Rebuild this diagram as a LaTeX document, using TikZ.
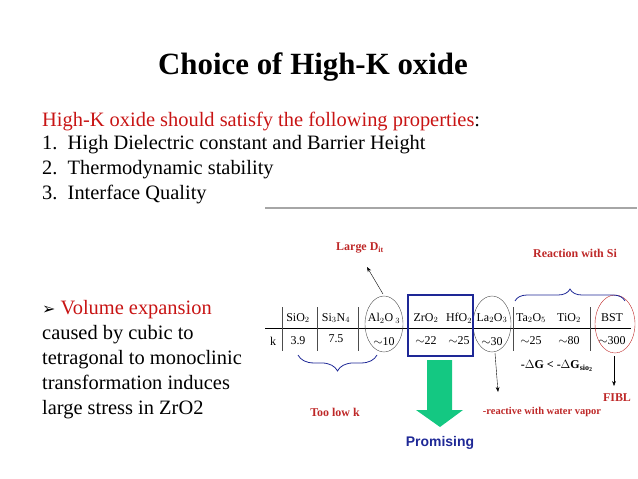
\documentclass[tikz,border=0pt]{standalone}
\usepackage{fontspec}
\setmainfont{Liberation Serif}
\newfontfamily\dv{DejaVu Sans}
\newfontfamily\lsans{Liberation Sans}
\usetikzlibrary{decorations.pathreplacing,arrows.meta}
\definecolor{dred}{RGB}{200,20,20}
\definecolor{lred}{RGB}{190,40,40}
\definecolor{bblue}{RGB}{30,40,150}
\definecolor{gteal}{RGB}{20,200,130}
\tikzset{
 body/.style={anchor=west,font=\fontsize{20.5}{25}\selectfont,inner sep=0},
 tab/.style={font=\fontsize{12}{14}\selectfont,inner sep=0},
 lab/.style={font=\bfseries\fontsize{12}{14}\selectfont,text=lred,inner sep=0},
 ell/.style={draw=black!70,thin},
 brc/.style={draw=bblue,thick,decorate,decoration={brace,amplitude=12pt}},
 arr/.style={-{Stealth[length=5pt]},black,thin}
}
\begin{document}
\begin{tikzpicture}[x=1bp,y=-1bp]
\useasboundingbox (0,0) rectangle (638,479);
\node[font=\bfseries\fontsize{31}{36}\selectfont] (title) at (313,67) {Choice of High-K oxide};
\node[body,text=dred] (l0) at (42,122) {High-K oxide should satisfy the following properties\textcolor{black}{:}};
\node[body] (l1) at (42,145) {1.\enspace High Dielectric constant and Barrier Height};
\node[body] (l2) at (42,170) {2.\enspace Thermodynamic stability};
\node[body] (l3) at (42,195) {3.\enspace Interface Quality};
\draw[gray!70,line width=1.5pt] (265,208) -- (637,208);
\node[body,align=left,anchor=north west] (bul) at (42,300) {{\dv\fontsize{16}{18}\selectfont ➢} \textcolor{dred}{Volume expansion}\\caused by cubic to\\tetragonal to monoclinic\\transformation induces\\large stress in ZrO2};
% table
\draw[thin] (265,328) -- (631,328);
\foreach \x in {282,317,358,513,590} \draw[thin,black!70] (\x,307) -- (\x,351);
\node[tab] (k) at (273,341) {k};
\node[tab] (a1) at (298,318) {SiO$_2$}; \node[tab] (b1) at (298,341) {3.9};
\node[tab] (a2) at (336,318) {Si$_3$N$_4$}; \node[tab] (b2) at (336,339) {7.5};
\node[tab] (a3) at (384,318) {Al$_2$O\,$_3$}; \node[tab] (b3) at (384,342) {$\sim$10};
\node[tab] (a4) at (426,318) {ZrO$_2$}; \node[tab] (b4) at (426,341) {$\sim$22};
\node[tab] (a5) at (459,318) {HfO$_2$}; \node[tab] (b5) at (459,341) {$\sim$25};
\node[tab] (a6) at (492,318) {La$_2$O$_3$}; \node[tab] (b6) at (492,342) {$\sim$30};
\node[tab] (a7) at (531,318) {Ta$_2$O$_5$}; \node[tab] (b7) at (531,341) {$\sim$25};
\node[tab] (a8) at (569,318) {TiO$_2$}; \node[tab] (b8) at (569,341) {$\sim$80};
\node[tab] (a9) at (612,318) {BST}; \node[tab] (b9) at (612,341) {$\sim$300};
\draw[ell] (384,324) ellipse (19 and 28);
\draw[ell] (492,324) ellipse (19 and 28);
\draw[draw=lred,thin] (615,324) ellipse (20 and 29);
\draw[draw=bblue,line width=1.5pt] (408,295) rectangle (473,356);
\coordinate (alt) at (383,294);
\node[lab] (dit) at (360,248) {Large D$_{\mathbf{it}}$};
\draw[arr] (alt) -- (367,267);
\node[lab] (rws) at (575,253) {Reaction with Si};
\draw[brc] (515,301) -- (625,301);
\draw[brc,decoration={amplitude=16pt}] (377,355) -- (298,355);
\node[lab] (tlk) at (335,412) {Too low k};
\fill[gteal] (427,360) -- (452,360) -- (452,410) -- (463,410) -- (440,427) -- (416,410) -- (427,410) -- cycle;
\node[font=\lsans\bfseries\fontsize{14}{16}\selectfont,text=bblue,inner sep=0] (prom) at (440,443) {Promising};
\coordinate (lab) at (495,353);
\draw[arr] (lab) -- (498,392);
\node[lab,font=\bfseries\fontsize{10.5}{12}\selectfont] (wv) at (542,412) {-reactive with water vapor};
\node[tab,font=\bfseries\fontsize{12}{14}\selectfont] (dg) at (557,366) {-$\Delta$G < -$\Delta$G$_{\mathbf{sio_2}}$};
\coordinate (bst) at (614,356);
\draw[arr] (bst) -- (614,386);
\node[lab] (fibl) at (617,398) {FIBL};
\end{tikzpicture}
\end{document}
